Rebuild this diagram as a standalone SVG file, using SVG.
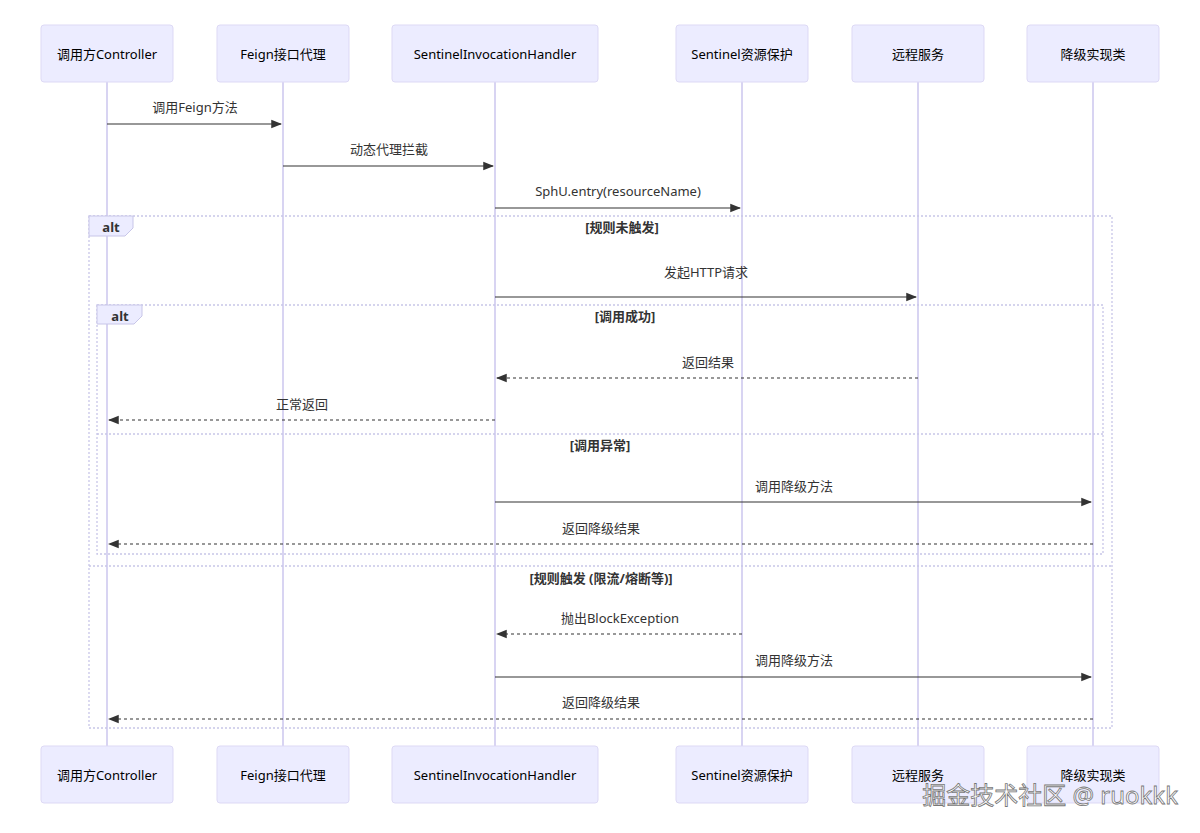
<svg xmlns="http://www.w3.org/2000/svg" width="1200" height="833" viewBox="0 0 1200 833">
<style>
text{font-family:"Noto Sans","Noto Sans CJK SC",sans-serif;font-size:13px;fill:#333}
.actor rect{fill:#ECECFF;stroke:#ddd9f5;stroke-width:1}
.actor text{text-anchor:middle;dominant-baseline:central;fill:#000}
.life{stroke:#d8d4f2;stroke-width:2}
.msg{stroke:#333;stroke-width:1.2;fill:none}
.dash{stroke-dasharray:3,3}
.ml{text-anchor:middle}
.box{fill:none;stroke:#c8c6e8;stroke-width:1.3;stroke-dasharray:2,2}
.tab{fill:#ECECFF;stroke:#c8c6e8}
.lbl{font-weight:bold;text-anchor:middle}
</style>
<defs>
<marker id="ah" viewBox="0 0 10 10" refX="9" refY="5" markerWidth="9" markerHeight="9" orient="auto"><path d="M0,1 L10,5 L0,9 z" fill="#333"/></marker>
</defs>
<rect width="1200" height="833" fill="#fff"/>
<g id="lifelines">
<line class="life" x1="107" y1="82" x2="107" y2="746"/>
<line class="life" x1="283" y1="82" x2="283" y2="746"/>
<line class="life" x1="495" y1="82" x2="495" y2="746"/>
<line class="life" x1="742" y1="82" x2="742" y2="746"/>
<line class="life" x1="918" y1="82" x2="918" y2="746"/>
<line class="life" x1="1093" y1="82" x2="1093" y2="746"/>
</g>
<g id="frames">
<rect class="box" x="89" y="216" width="1023" height="512"/>
<path class="tab" d="M89,216 H133 V228 L125,236 H89 Z"/>
<text x="111" y="232" class="lbl" style="font-size:13px">alt</text>
<text x="622" y="232" class="lbl">[规则未触发]</text>
<line class="box" x1="89" y1="566" x2="1112" y2="566"/>
<text x="601" y="583" class="lbl">[规则触发 (限流/熔断等)]</text>
<rect class="box" x="97" y="305" width="1006" height="249"/>
<path class="tab" d="M97,305 H142 V316 L134,324 H97 Z"/>
<text x="120" y="321" class="lbl">alt</text>
<text x="625" y="321" class="lbl">[调用成功]</text>
<line class="box" x1="97" y1="434" x2="1103" y2="434"/>
<text x="600" y="450" class="lbl">[调用异常]</text>
</g>
<g id="connectors">
<line class="msg" x1="107" y1="124" x2="281" y2="124" marker-end="url(#ah)"/>
<text class="ml" x="195" y="112">调用Feign方法</text>
<line class="msg" x1="283" y1="166" x2="493" y2="166" marker-end="url(#ah)"/>
<text class="ml" x="389" y="154">动态代理拦截</text>
<line class="msg" x1="495" y1="208" x2="740" y2="208" marker-end="url(#ah)"/>
<text class="ml" x="618" y="196">SphU.entry(resourceName)</text>
<line class="msg" x1="495" y1="297" x2="916" y2="297" marker-end="url(#ah)"/>
<text class="ml" x="706" y="277">发起HTTP请求</text>
<line class="msg dash" x1="918" y1="378" x2="497" y2="378" marker-end="url(#ah)"/>
<text class="ml" x="708" y="367">返回结果</text>
<line class="msg dash" x1="495" y1="420" x2="109" y2="420" marker-end="url(#ah)"/>
<text class="ml" x="302" y="409">正常返回</text>
<line class="msg" x1="495" y1="502" x2="1091" y2="502" marker-end="url(#ah)"/>
<text class="ml" x="794" y="491">调用降级方法</text>
<line class="msg dash" x1="1093" y1="544" x2="109" y2="544" marker-end="url(#ah)"/>
<text class="ml" x="601" y="533">返回降级结果</text>
<line class="msg dash" x1="742" y1="634" x2="497" y2="634" marker-end="url(#ah)"/>
<text class="ml" x="620" y="623">抛出BlockException</text>
<line class="msg" x1="495" y1="677" x2="1091" y2="677" marker-end="url(#ah)"/>
<text class="ml" x="794" y="665">调用降级方法</text>
<line class="msg dash" x1="1093" y1="719" x2="109" y2="719" marker-end="url(#ah)"/>
<text class="ml" x="601" y="707">返回降级结果</text>
</g>
<g id="a1" class="actor"><rect x="41" y="25" width="132" height="57" rx="3"/><text x="107" y="54">调用方Controller</text></g>
<g id="a2" class="actor"><rect x="217" y="25" width="132" height="57" rx="3"/><text x="283" y="54">Feign接口代理</text></g>
<g id="a3" class="actor"><rect x="392" y="25" width="206" height="57" rx="3"/><text x="495" y="54">SentinelInvocationHandler</text></g>
<g id="a4" class="actor"><rect x="676" y="25" width="132" height="57" rx="3"/><text x="742" y="54">Sentinel资源保护</text></g>
<g id="a5" class="actor"><rect x="852" y="25" width="132" height="57" rx="3"/><text x="918" y="54">远程服务</text></g>
<g id="a6" class="actor"><rect x="1027" y="25" width="132" height="57" rx="3"/><text x="1093" y="54">降级实现类</text></g>
<g id="b1" class="actor"><rect x="41" y="746" width="132" height="57" rx="3"/><text x="107" y="775">调用方Controller</text></g>
<g id="b2" class="actor"><rect x="217" y="746" width="132" height="57" rx="3"/><text x="283" y="775">Feign接口代理</text></g>
<g id="b3" class="actor"><rect x="392" y="746" width="206" height="57" rx="3"/><text x="495" y="775">SentinelInvocationHandler</text></g>
<g id="b4" class="actor"><rect x="676" y="746" width="132" height="57" rx="3"/><text x="742" y="775">Sentinel资源保护</text></g>
<g id="b5" class="actor"><rect x="852" y="746" width="132" height="57" rx="3"/><text x="918" y="775">远程服务</text></g>
<g id="b6" class="actor"><rect x="1027" y="746" width="132" height="57" rx="3"/><text x="1093" y="775">降级实现类</text></g>
<text x="1178" y="804" style="font-size:24px;fill:#fff;stroke:#777;stroke-width:0.8;text-anchor:end">掘金技术社区 @ ruokkk</text>
</svg>
